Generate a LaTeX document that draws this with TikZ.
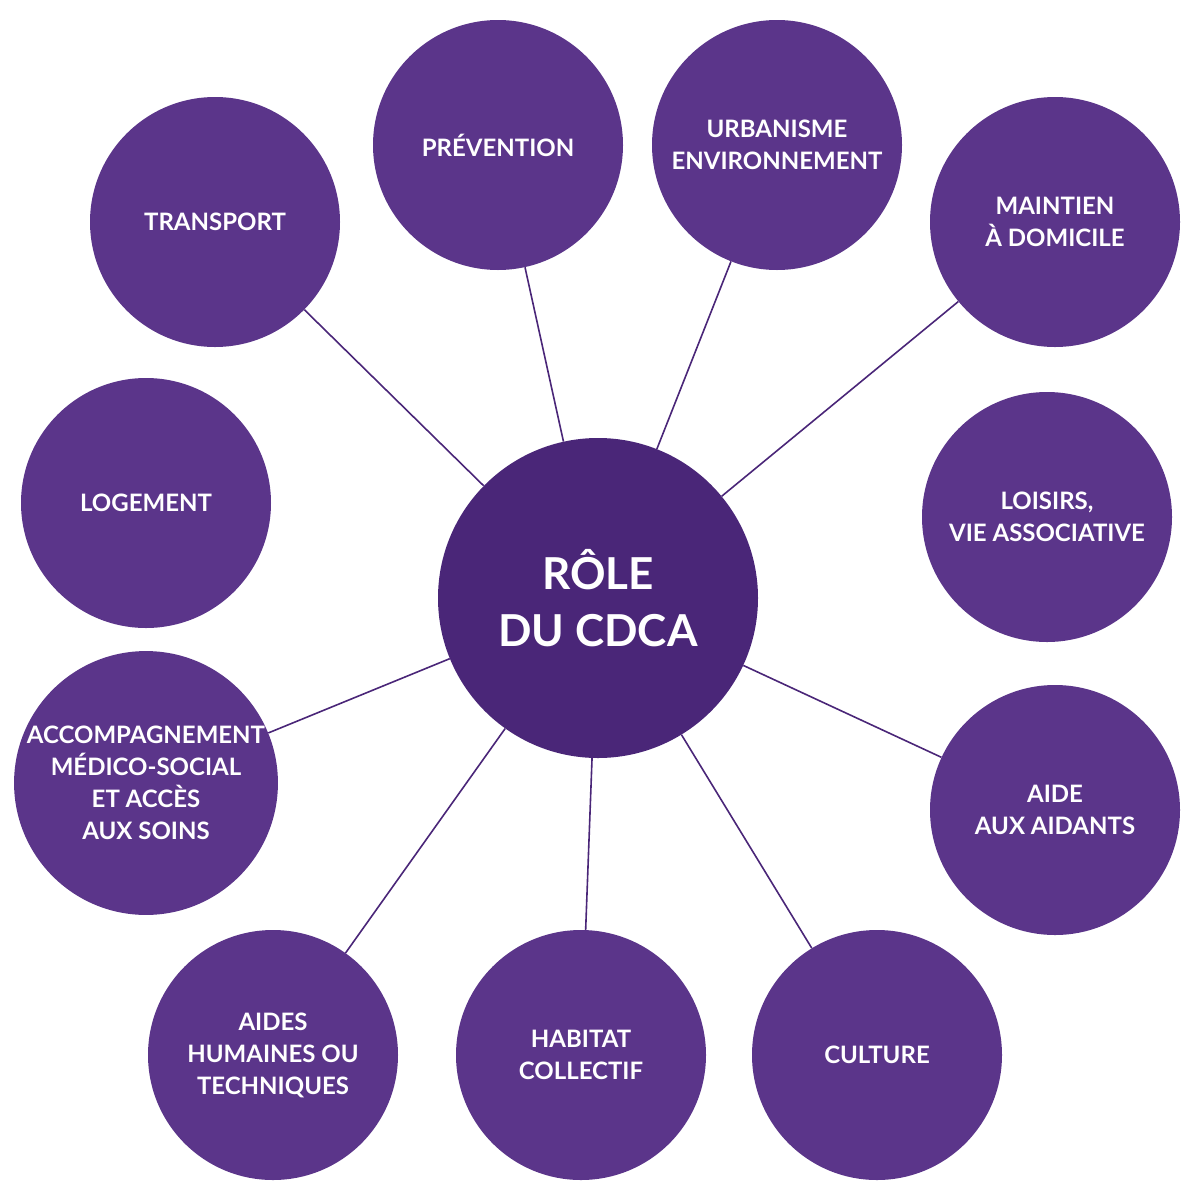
\documentclass[tikz,border=0pt]{standalone}
\usepackage{fontspec}
\setmainfont{Lato}
\definecolor{outer}{HTML}{5B358A}
\definecolor{inner}{HTML}{4A2678}
\definecolor{link}{HTML}{4A2678}
\begin{document}
\begin{tikzpicture}[x=1pt,y=-1pt,
  bub/.style={circle,fill=outer,minimum size=250pt,inner sep=0pt,text=white,align=center,font=\fontsize{24}{32}\selectfont\bfseries},
  hub/.style={circle,fill=inner,minimum size=320pt,inner sep=0pt,text=white,align=center,font=\fontsize{44}{57}\selectfont\bfseries},
  lk/.style={draw=link,line width=1.6pt}]
\useasboundingbox (0,0) rectangle (1200,1200);
\node[hub] (c) at (598,598) {RÔLE\\DU CDCA};
\node[bub] (tr) at (215,222) {TRANSPORT};
\node[bub] (pr) at (498,145) {PRÉVENTION};
\node[bub] (ur) at (777,145) {URBANISME\\ENVIRONNEMENT};
\node[bub] (ma) at (1055,222) {MAINTIEN\\À DOMICILE};
\node[bub] (lo) at (1047,517) {LOISIRS,\\VIE ASSOCIATIVE};
\node[bub] (ai) at (1055,810) {AIDE\\AUX AIDANTS};
\node[bub] (cu) at (877,1055) {CULTURE};
\node[bub] (ha) at (581,1055) {HABITAT\\COLLECTIF};
\node[bub] (ah) at (273,1055) {AIDES\\HUMAINES OU\\TECHNIQUES};
\node[bub] (ac) at (146,783) {ACCOMPAGNEMENT\\MÉDICO-SOCIAL\\ET ACCÈS\\AUX SOINS};
\node[bub] (lg) at (146,503) {LOGEMENT};
\foreach \n in {tr,pr,ur,ma,ai,cu,ha,ah,ac} \draw[lk] (c) -- (\n);
\end{tikzpicture}
\end{document}
